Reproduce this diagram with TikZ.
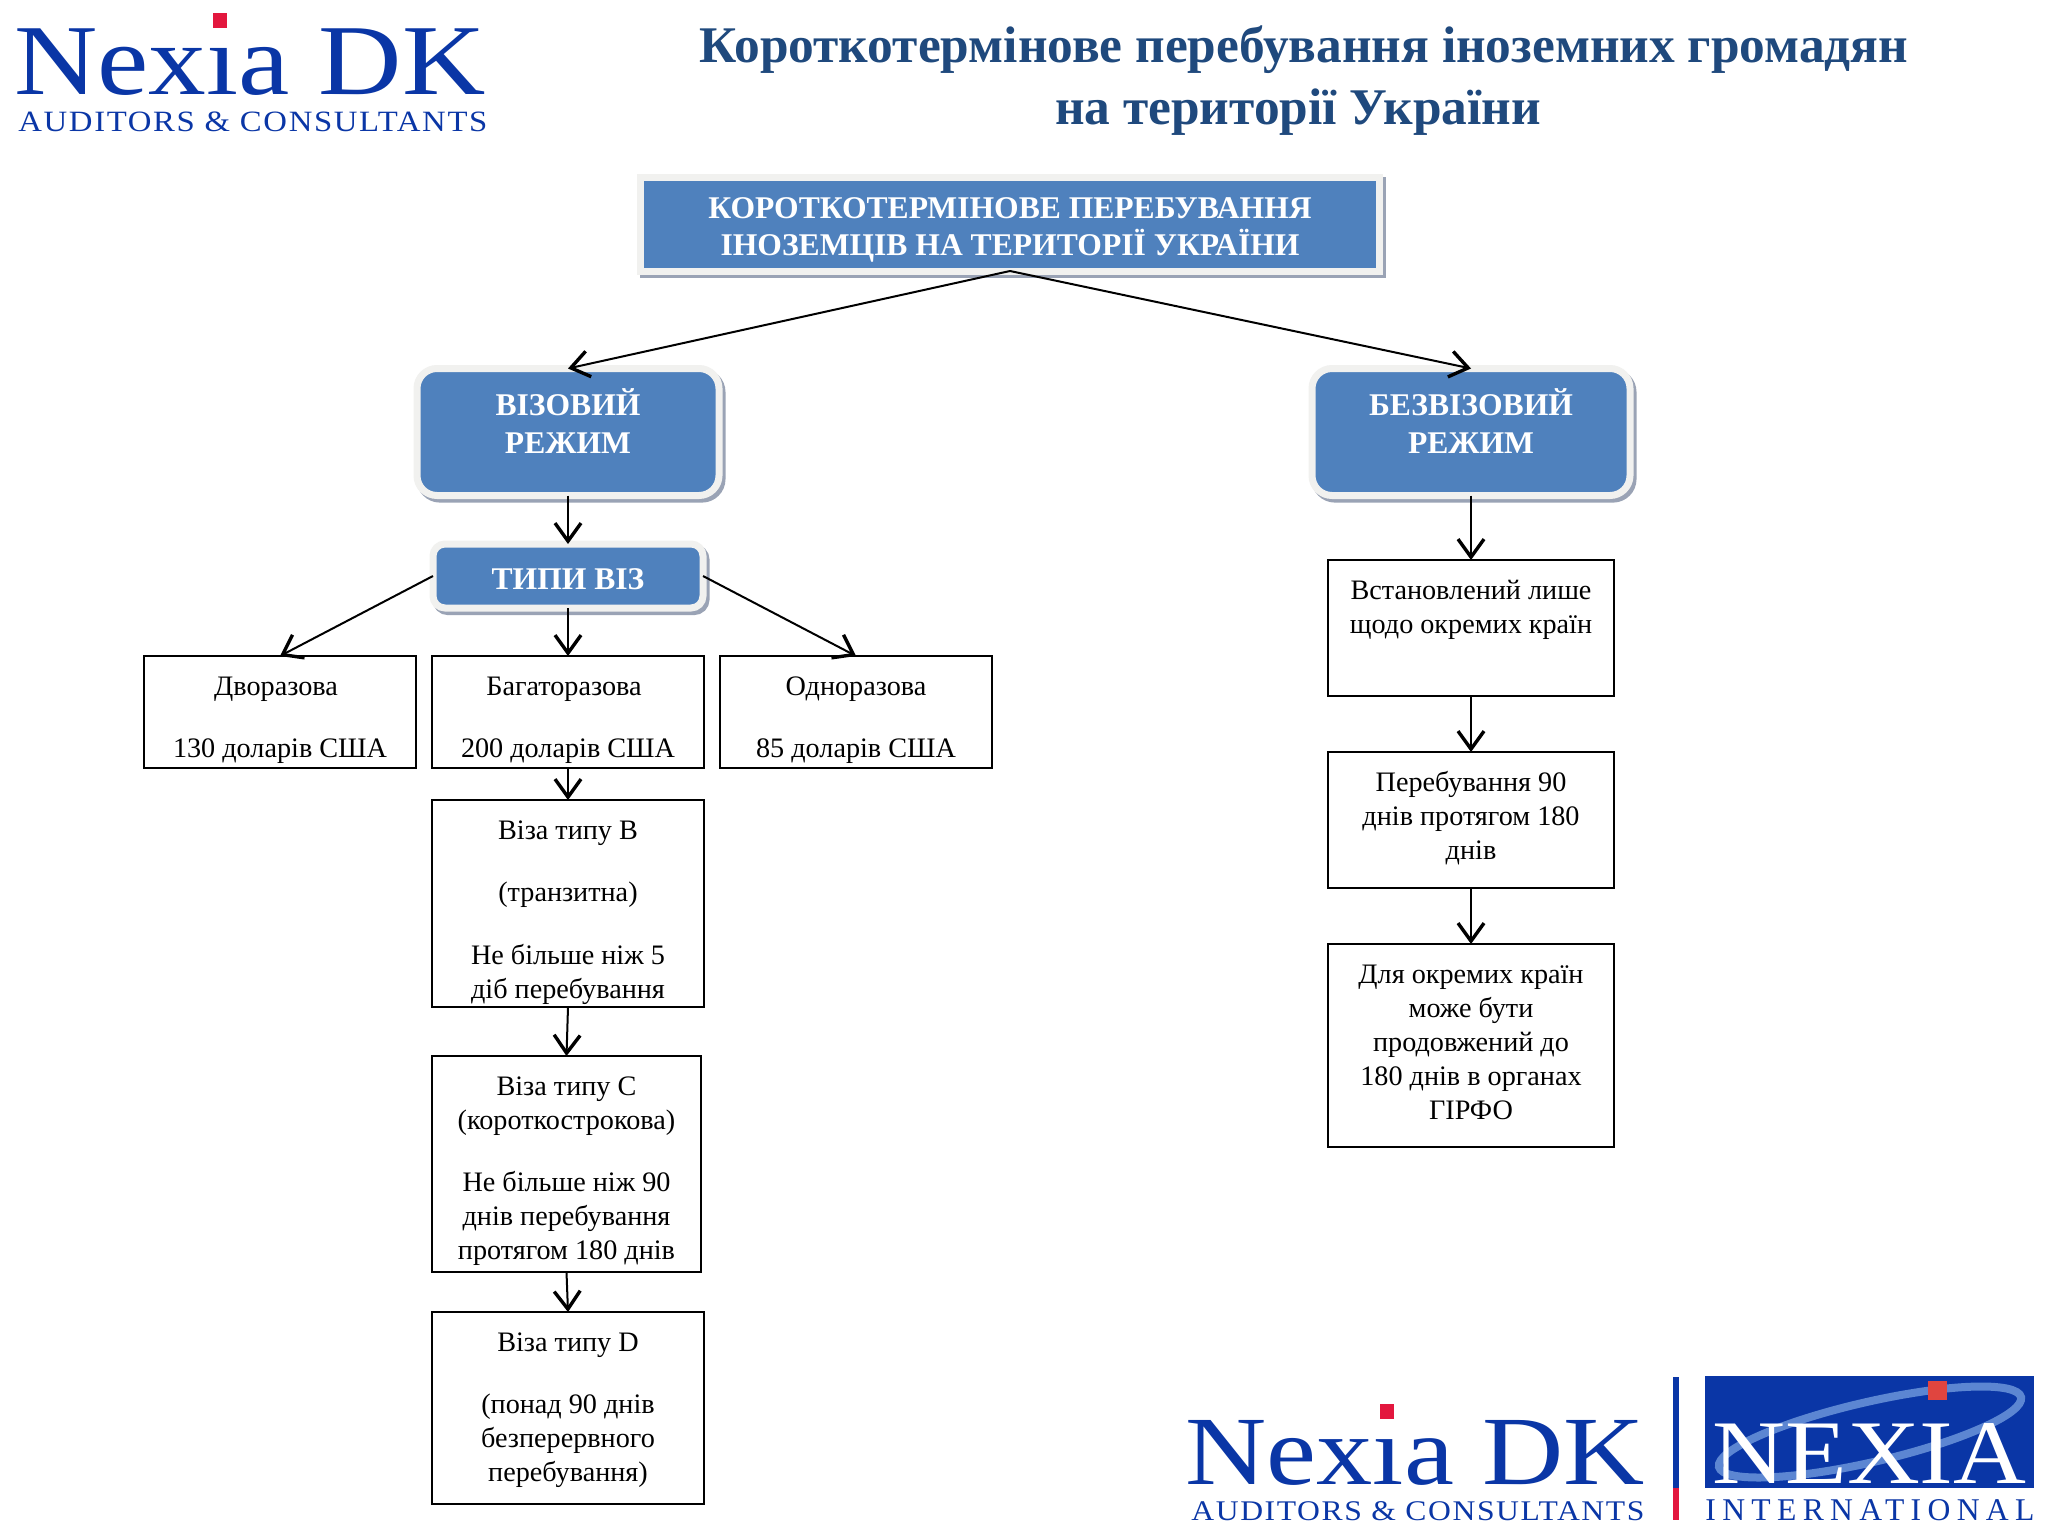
\documentclass[tikz,border=0pt]{standalone}
\usepackage{fontspec}
\setmainfont{Liberation Serif}
\usetikzlibrary{arrows.meta,shadows}
\definecolor{boxblue}{HTML}{4F81BD}
\definecolor{frameclr}{HTML}{F1F1EF}
\definecolor{shadowclr}{HTML}{9AA3B5}
\definecolor{titleclr}{HTML}{1F497D}
\definecolor{logoblue}{HTML}{0A36A6}
\definecolor{logored}{HTML}{E3173E}
\definecolor{logoredb}{HTML}{E0453F}
\definecolor{ringclr}{HTML}{5C86D2}
\newcommand{\bxt}[4]{\parbox[t][#2][t]{#1}{\centering\rule{0pt}{#3}#4}}
\newcommand{\gap}{\\[14.4pt]}
\newcommand{\logomain}[1]{\scalebox{1}[0.87]{\resizebox{#1}{!}{\fontsize{50}{50}\selectfont Nexia DK}}}
\newcommand{\logosub}[1]{\scalebox{1}[0.9]{\resizebox{#1}{!}{\fontsize{15}{15}\selectfont\addfontfeature{LetterSpace=5}AUDITORS \& CONSULTANTS}}}
\tikzset{
  bluebox/.style={inner sep=0pt,outer sep=0pt,fill=boxblue,draw=frameclr,line width=3.5pt,text=white,
    font=\fontsize{15.8}{18.8}\selectfont\bfseries,
    copy shadow={shadow xshift=1.5pt,shadow yshift=-1.8pt,fill=shadowclr,draw=shadowclr}},
  plainbox/.style={inner sep=0pt,outer sep=0pt,draw=black,line width=1pt,fill=white,text=black,
    font=\fontsize{14.1}{17}\selectfont},
  conn/.style={draw=black,line width=1pt,-{Straight Barb[length=9pt,width=13pt,line width=1.7pt]}},
  logotext/.style={inner sep=0pt,anchor=base west,text=logoblue}
}
\begin{document}
\begin{tikzpicture}[x=0.5pt,y=-0.5pt]
\useasboundingbox[fill=white] (0,0) rectangle (2048,1536);

% title
\node[inner sep=0pt,align=center,text=titleclr,font=\fontsize{25.7}{31.3}\selectfont\bfseries] (title) at (1304,80.5)
  {Короткотермінове перебування іноземних громадян\\на території України\kern6pt};

% top logo
\node[logotext] (logoa) at (14,95) {\logomain{235.5pt}};
\node[logotext] (logob) at (18,132) {\logosub{234.5pt}};
\fill[white] (209,27) rectangle (231,47);
\fill[logored] (213,13) rectangle (227,28);

% blue boxes
\node[bluebox,anchor=north west] (top) at (640.5,177)
  {\bxt{369.5pt}{47pt}{20.5pt}{КОРОТКОТЕРМІНОВЕ ПЕРЕБУВАННЯ\\ІНОЗЕМЦІВ НА ТЕРИТОРІЇ УКРАЇНИ}};
\node[bluebox,rounded corners=10pt,anchor=north west] (viz) at (417,368.5)
  {\bxt{151pt}{63.5pt}{23.5pt}{ВІЗОВИЙ\\РЕЖИМ}};
\node[bluebox,rounded corners=10pt,anchor=north west] (bez) at (1312,368.5)
  {\bxt{159pt}{63.5pt}{23.5pt}{БЕЗВІЗОВИЙ\\РЕЖИМ}};
\node[bluebox,rounded corners=6pt,anchor=north west] (types) at (433,544)
  {\bxt{135pt}{32pt}{22.5pt}{ТИПИ ВІЗ}};

% plain boxes, left
\node[plainbox,anchor=north west] (dvo) at (144,656)
  {\bxt{136pt}{56pt}{19.5pt}{Дворазова\kern4pt\gap 130 доларів США}};
\node[plainbox,anchor=north west] (bag) at (432,656)
  {\bxt{136pt}{56pt}{19.5pt}{Багаторазова\kern4pt\gap 200 доларів США}};
\node[plainbox,anchor=north west] (odn) at (720,656)
  {\bxt{136pt}{56pt}{19.5pt}{Одноразова\gap 85 доларів США}};
\node[plainbox,anchor=north west] (visb) at (432,800)
  {\bxt{136pt}{103.5pt}{19.5pt}{Віза типу В\gap (транзитна)\gap Не більше ніж 5\\діб перебування}};
\node[plainbox,anchor=north west] (visc) at (432,1056)
  {\bxt{134.5pt}{108pt}{19.5pt}{Віза типу С\\(короткострокова)\gap Не більше ніж 90\\днів перебування\\протягом 180 днів}};
\node[plainbox,anchor=north west] (visd) at (432,1312)
  {\bxt{136pt}{96pt}{19.5pt}{Віза типу D\gap (понад 90 днів\\безперервного\\перебування)}};

% plain boxes, right
\node[plainbox,anchor=north west] (ra) at (1328,560)
  {\bxt{143pt}{68pt}{19.5pt}{Встановлений лише\\щодо окремих країн}};
\node[plainbox,anchor=north west] (rb) at (1328,752)
  {\bxt{143pt}{68pt}{19.5pt}{Перебування 90\\днів протягом 180\\днів}};
\node[plainbox,anchor=north west] (rc) at (1328,944)
  {\bxt{143pt}{101.5pt}{19.5pt}{Для окремих країн\\може бути\\продовжений до\\180 днів в органах\\ГІРФО}};

% connectors
\draw[conn] (top.south) -- (viz.north);
\draw[conn] (top.south) -- (bez.north);
\draw[conn] (viz.south) -- (types.north);
\draw[conn] (types.west) -- (dvo.north);
\draw[conn] (types.south) -- (bag.north);
\draw[conn] (types.east) -- (odn.north);
\draw[conn] (bag.south) -- (visb.north);
\draw[conn] (visb.south) -- (visc.north);
\draw[conn] (visc.south) -- (visd.north);
\draw[conn] (bez.south) -- (ra.north);
\draw[conn] (ra.south) -- (rb.north);
\draw[conn] (rb.south) -- (rc.north);

% bottom logos
\node[logotext] (logoc) at (1185,1484) {\logomain{229.5pt}};
\node[logotext] (logod) at (1191,1520) {\logosub{226.5pt}};
\fill[white] (1376,1417) rectangle (1398,1436);
\fill[logored] (1380,1404) rectangle (1394,1419);
\fill[logoblue] (1673,1377) rectangle (1679,1488);
\fill[logored] (1673,1488) rectangle (1679,1520);
\fill[logoblue] (1705,1376) rectangle (2034,1488);
\draw[ringclr,line width=4pt,rotate around={13:(1870,1432)}] (1870,1432) ellipse [x radius=155,y radius=30];
\fill[logoredb] (1928,1381) rectangle (1947,1400);
\node[logotext,text=white] (logoe) at (1712,1483) {\scalebox{1}[0.9]{\resizebox{157pt}{!}{\fontsize{50}{50}\selectfont NEXIA}}};
\node[logotext] (logof) at (1705,1520) {\resizebox{164.5pt}{!}{\fontsize{15}{15}\selectfont\addfontfeature{LetterSpace=20}INTERNATIONAL}};
\end{tikzpicture}
\end{document}
